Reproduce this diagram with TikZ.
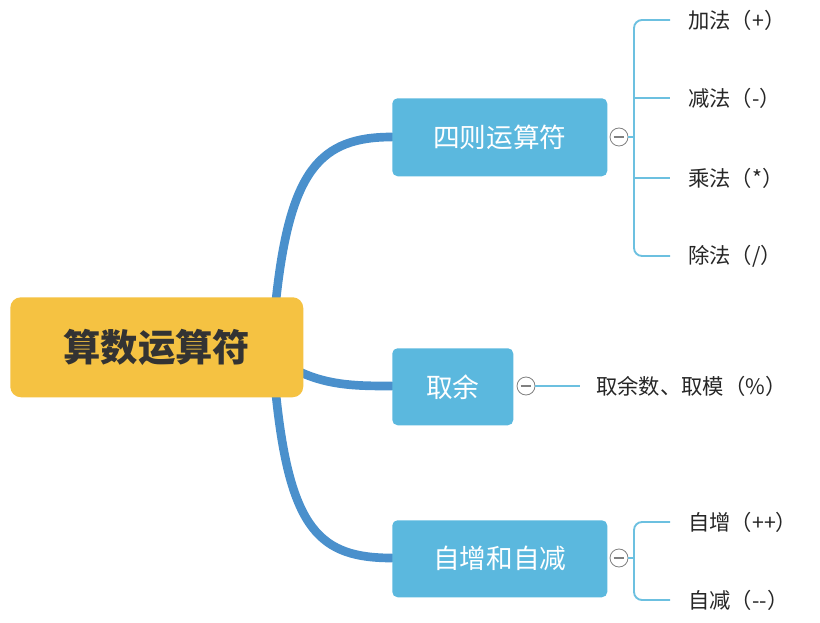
\documentclass[tikz,border=0pt]{standalone}
\usepackage{fontspec}
\setmainfont{Noto Sans CJK SC}
\begin{document}
\begin{tikzpicture}[x=0.75pt,y=-0.75pt]
\definecolor{boxc}{HTML}{5BB8DE}
\definecolor{rootc}{HTML}{F5C242}
\definecolor{trunk}{HTML}{4A90CC}
\definecolor{leafl}{HTML}{6CC0E0}
\tikzset{
 br/.style={draw=none,fill=boxc,rounded corners=4pt,text=white,font=\fontsize{20}{20}\selectfont,anchor=north west,inner sep=0pt},
 leaf/.style={anchor=west,inner sep=0pt,font=\fontsize{16}{16}\selectfont,text=black!85},
 col/.style={circle,draw=gray,fill=white,minimum size=13.5pt,inner sep=0pt,line width=0.6pt},
 ll/.style={draw=leafl,line width=1.4pt,rounded corners=6pt},
 tk/.style={draw=trunk,line width=6.5pt,line cap=round}
}
\useasboundingbox (0,0) rectangle (820,623);
% trunk connectors
\draw[tk] (276,300) .. controls (290,170) and (320,137) .. (392,137);
\draw[tk] (300,372) .. controls (330,386) and (360,386) .. (392,386);
\draw[tk] (276,395) .. controls (290,530) and (320,558) .. (392,558);
% root
\node[draw=none,fill=rootc,rounded corners=8pt,inner sep=0pt,anchor=north west,text width=219.75pt,minimum height=75pt,align=center,font=\fontsize{28}{28}\selectfont\bfseries,text=black!80] (root) at (10,297) {算数运算符};
% branches
\node[br,minimum width=161.25pt,minimum height=58.5pt] (b1) at (392,98) {四则运算符};
\node[br,minimum width=90.75pt,minimum height=57.75pt] (b2) at (392,348) {取余};
\node[br,minimum width=161.25pt,minimum height=57.75pt] (b3) at (392,520) {自增和自减};
% leaves
\node[leaf] (l1) at (688,20) {加法（+）};
\node[leaf] (l2) at (688,98) {减法（-）};
\node[leaf] (l3) at (688,178) {乘法（*）};
\node[leaf] (l4) at (688,256) {除法（/）};
\node[leaf] (l5) at (596,386) {取余数、取模（\%）};
\node[leaf] (l6) at (688,522) {自增（++）};
\node[leaf] (l7) at (688,600) {自减（{-}{-}）};
% circles
\node[col] (c1) at (619,137) {};
\node[col] (c2) at (526,386) {};
\node[col] (c3) at (619,558) {};
% leaf lines
\draw[ll] (c1.east) -- (634,137);
\draw[ll] (670,20) -- (634,20) -- (634,256) -- (670,256);
\draw[ll] (634,98) -- (670,98);
\draw[ll] (634,178) -- (670,178);
\draw[draw=leafl,line width=1.4pt] (c2.east) -- (580,386);
\draw[ll] (c3.east) -- (634,558);
\draw[ll] (670,522) -- (634,522) -- (634,600) -- (670,600);
\foreach \c in {c1,c2,c3}{\draw[gray,line width=0.8pt] ([xshift=-4pt]\c.center) -- ([xshift=4pt]\c.center);}
\end{tikzpicture}
\end{document}
